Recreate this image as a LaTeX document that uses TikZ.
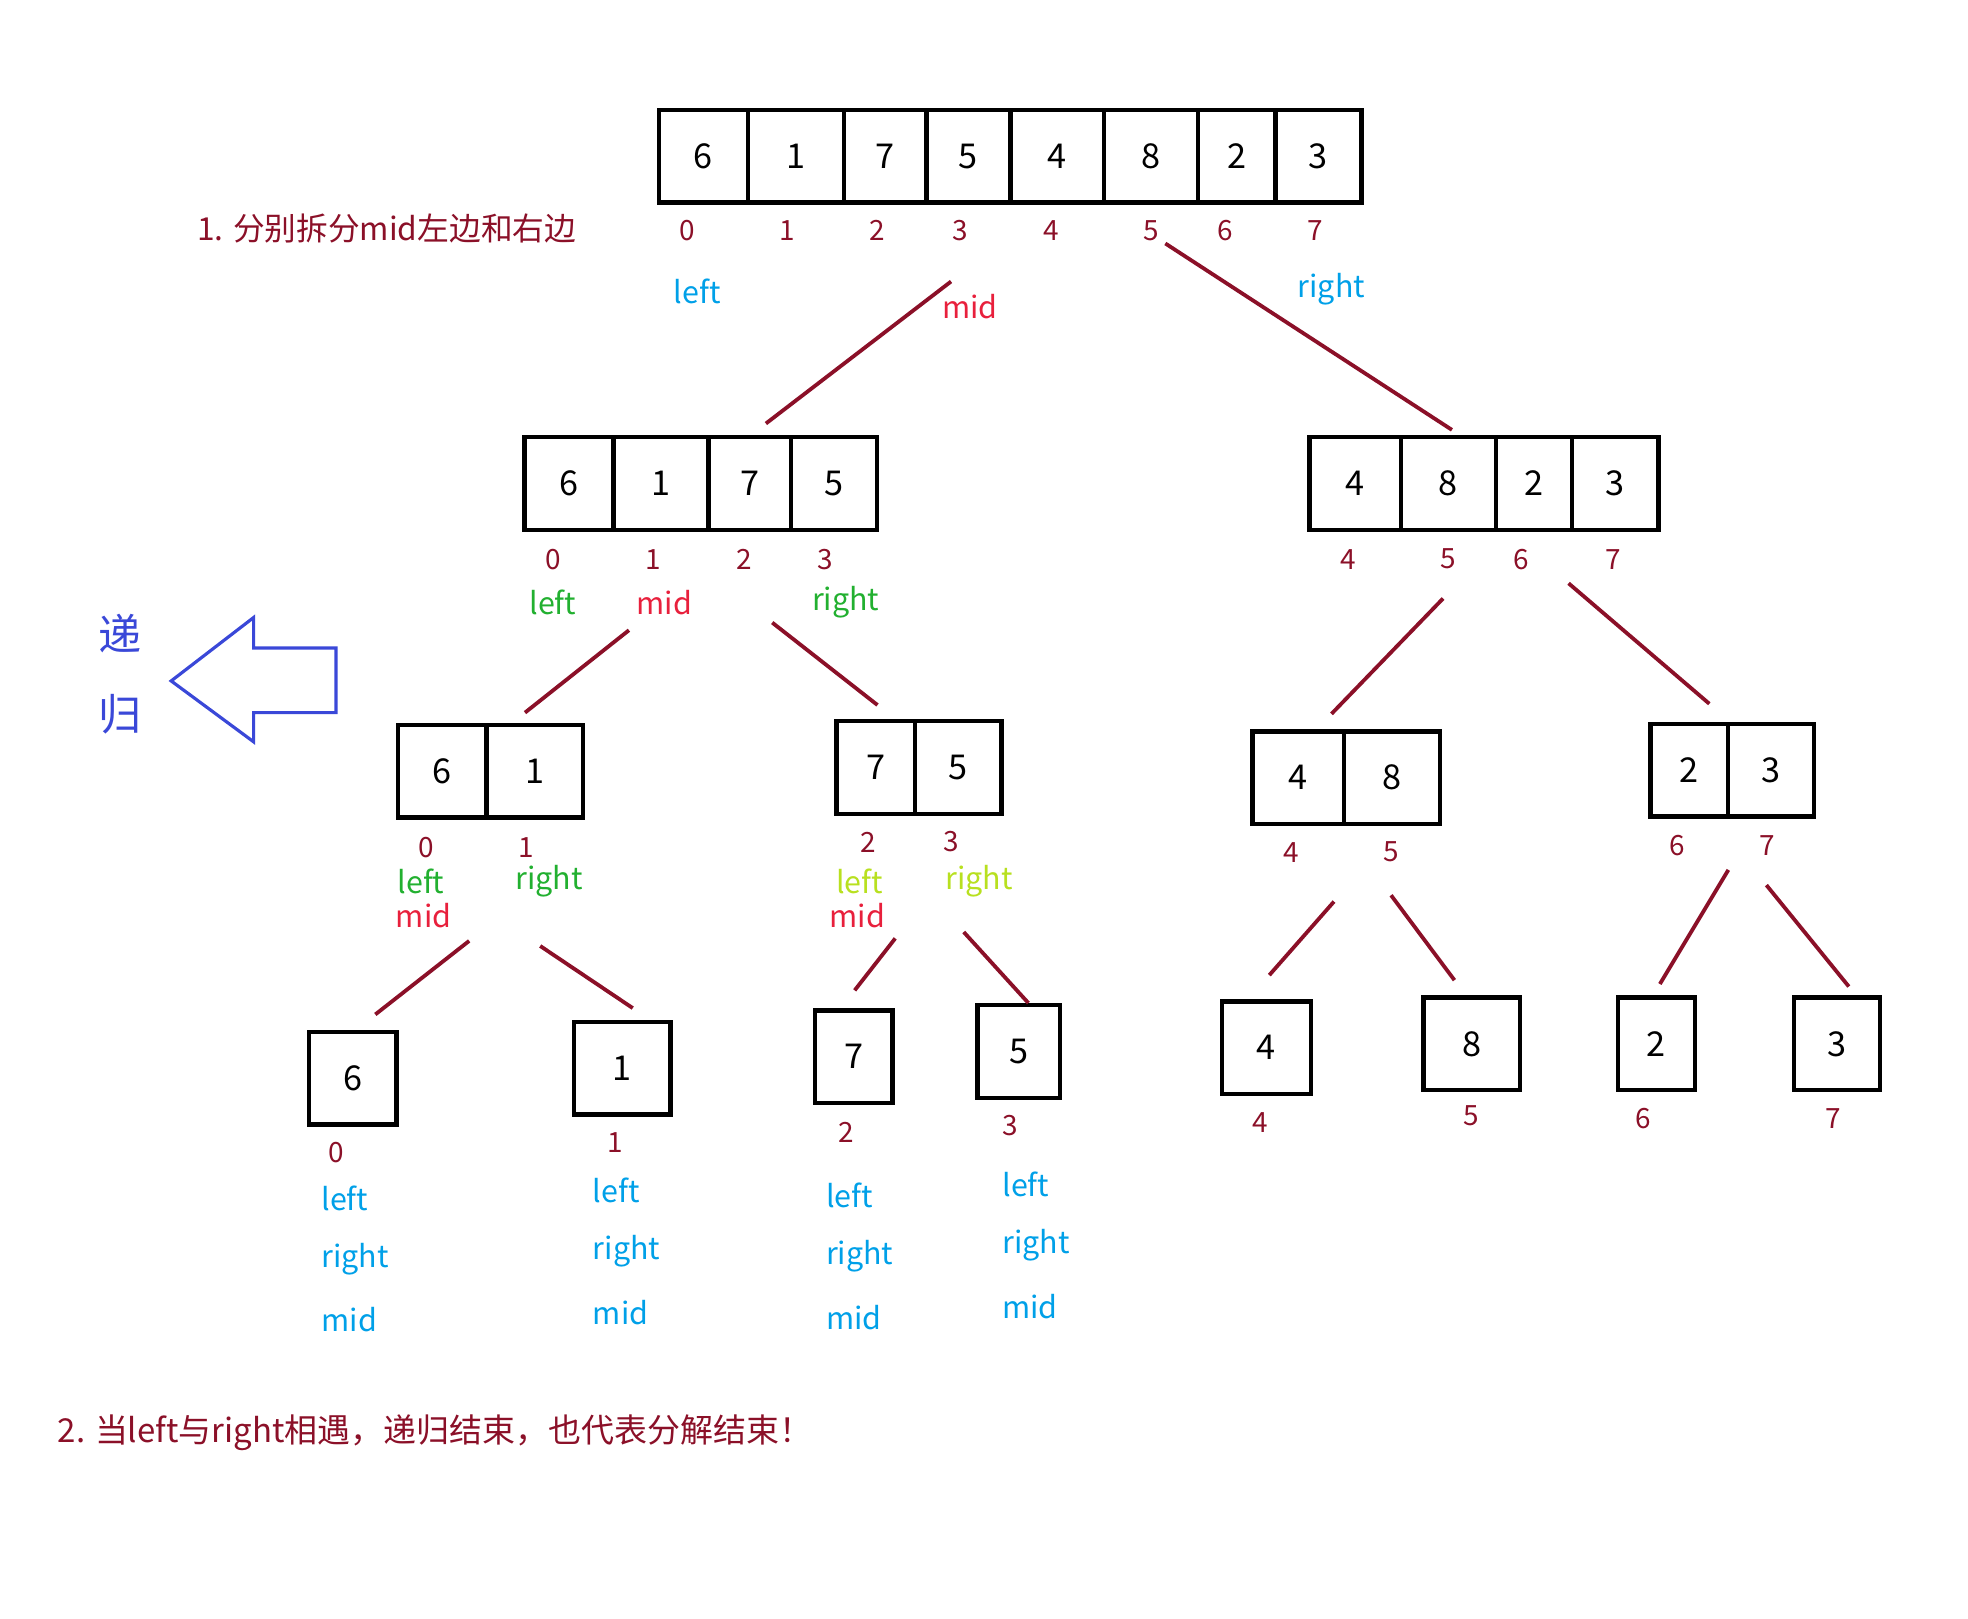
\documentclass[tikz,border=0pt]{standalone}
\usepackage{fontspec}
\setmainfont{Noto Sans CJK SC}
\begin{document}
\begin{tikzpicture}[x=1pt,y=-1pt,
 cell/.style={draw=black,line width=3.5pt,minimum height=73pt,inner sep=0pt,font=\fontsize{27}{27}\selectfont},
 idx/.style={text=dred,font=\fontsize{22}{22}\selectfont},
 lab/.style={font=\fontsize{24}{24}\selectfont},
 con/.style={draw=dred,line width=3pt}]
\definecolor{dred}{HTML}{8B1028}
\definecolor{cy}{HTML}{00A0E8}
\definecolor{gr}{HTML}{22B030}
\definecolor{rd}{HTML}{E8203C}
\definecolor{yg}{HTML}{B8E020}
\definecolor{bl}{HTML}{3A48D8}
\useasboundingbox (0,0) rectangle (1552,1276);
\newcommand\cellrow[5]{%
 \foreach \a/\b/\d [count=\i] in {#4} {
  \node[cell,minimum width={(\b-\a)*1pt},anchor=north west] (#1\i) at (\a,#2) {\d};}}
\cellrow{t}{85}{158}{518/588/6,588/664/1,664/729/7,729/795/5,795/869/4,869/943/8,943/1004/2,1004/1072/3}{}
\cellrow{l}{343}{417}{412/482/6,482/557/1,557/622/7,622/690/5}{}
\cellrow{r}{343}{417}{1031/1103/4,1103/1178/8,1178/1238/2,1238/1306/3}{}
\cellrow{a}{570}{644}{312/382/6,382/458/1}{}
\cellrow{b}{567}{641}{658/720/7,720/788/5}{}
\cellrow{c}{575}{648}{986/1058/4,1058/1134/8}{}
\cellrow{d}{569}{642}{1300/1361/2,1361/1429/3}{}
\cellrow{e}{812}{886}{242/311/6}{}
\cellrow{f}{804}{878}{451/527/1}{}
\cellrow{g}{795}{870}{641/702/7}{}
\cellrow{h}{791}{866}{769/834/5}{}
\cellrow{i}{788}{861}{962/1032/4}{}
\cellrow{j}{785}{856}{1121/1197/8}{}
\cellrow{k}{785}{858}{1274/1335/2}{}
\cellrow{m}{785}{858}{1413/1481/3}{}
% indices
\foreach \x/\t [count=\i] in {542/0,621/1,692/2,757/3,829/4,908/5,966/6,1037/7} \node[idx] (ti\i) at (\x,182) {\t};
\foreach \x/\t [count=\i] in {436/0,515/1,587/2,651/3,1063/4,1142/5,1200/6,1272/7} \node[idx] (li\i) at (\x,441) {\t};
\foreach \x/\y/\t [count=\i] in {336/668/0,415/668/1,685/664/2,750/664/3,1018/672/4,1097/672/5,1323/667/6,1394/667/7,265/909/0,485/901/1,667/893/2,797/888/3,994/885/4,1160/880/5,1296/882/6,1446/882/7} \node[idx] (ai\i) at (\x,\y) {\t};
% labels
\node[lab,text=cy] (L1) at (550,230) {left};
\node[lab,text=rd] (M1) at (765,242) {mid};
\node[lab,text=cy] (R1) at (1050,228) {right};
\node[lab,text=gr] (L2) at (436,475) {left};
\node[lab,text=rd] (M2) at (524,475) {mid};
\node[lab,text=gr] (R2) at (667,475) {right};
\node[lab,text=gr] (L3) at (332,695) {left};
\node[lab,text=gr] (R3) at (433,695) {right};
\node[lab,text=rd] (M3) at (334,722) {mid};
\node[lab,text=yg] (L4) at (678,695) {left};
\node[lab,text=yg] (R4) at (772,695) {right};
\node[lab,text=rd] (M4) at (676,722) {mid};
\foreach \x/\y [count=\i] in {250/945,464/939,648/943,787/934} {
 \node[lab,text=cy,anchor=west] (cl\i) at (\x,\y) {left};
 \node[lab,text=cy,anchor=west] (cr\i) at (\x,\y+48) {right};
 \node[lab,text=cy,anchor=west] (cm\i) at (\x,\y+96) {mid};}
\node[text=dred,anchor=west,font=\fontsize{25}{25}\selectfont] (T1) at (152,180) {1. 分别拆分mid左边和右边};
\node[text=dred,anchor=west,font=\fontsize{26}{26}\selectfont] (T2) at (42,1130) {2. 当left与right相遇，递归结束，也代表分解结束！};
% connectors
\foreach \a/\b/\c/\d in {750/222/604/334,919/192/1145/339,496/497/414/562,609/491/692/556,1138/472/1050/563,1237/460/1348/555,370/742/296/800,426/746/499/795,706/740/674/781,760/735/811/791,1052/711/1001/769,1097/706/1147/773,1363/686/1309/776,1393/698/1458/778}
 \draw[con] (\a,\b) -- (\c,\d);
% arrow
\draw[bl,line width=2.5pt,line join=miter] (135,537) -- (200,487) -- (200,511) -- (265,511) -- (265,562) -- (200,562) -- (200,585) -- cycle;
\node[text=bl,font=\fontsize{34}{34}\selectfont] (di) at (95,500) {递};
\node[text=bl,font=\fontsize{34}{34}\selectfont] (gu) at (95,563) {归};
\end{tikzpicture}
\end{document}
